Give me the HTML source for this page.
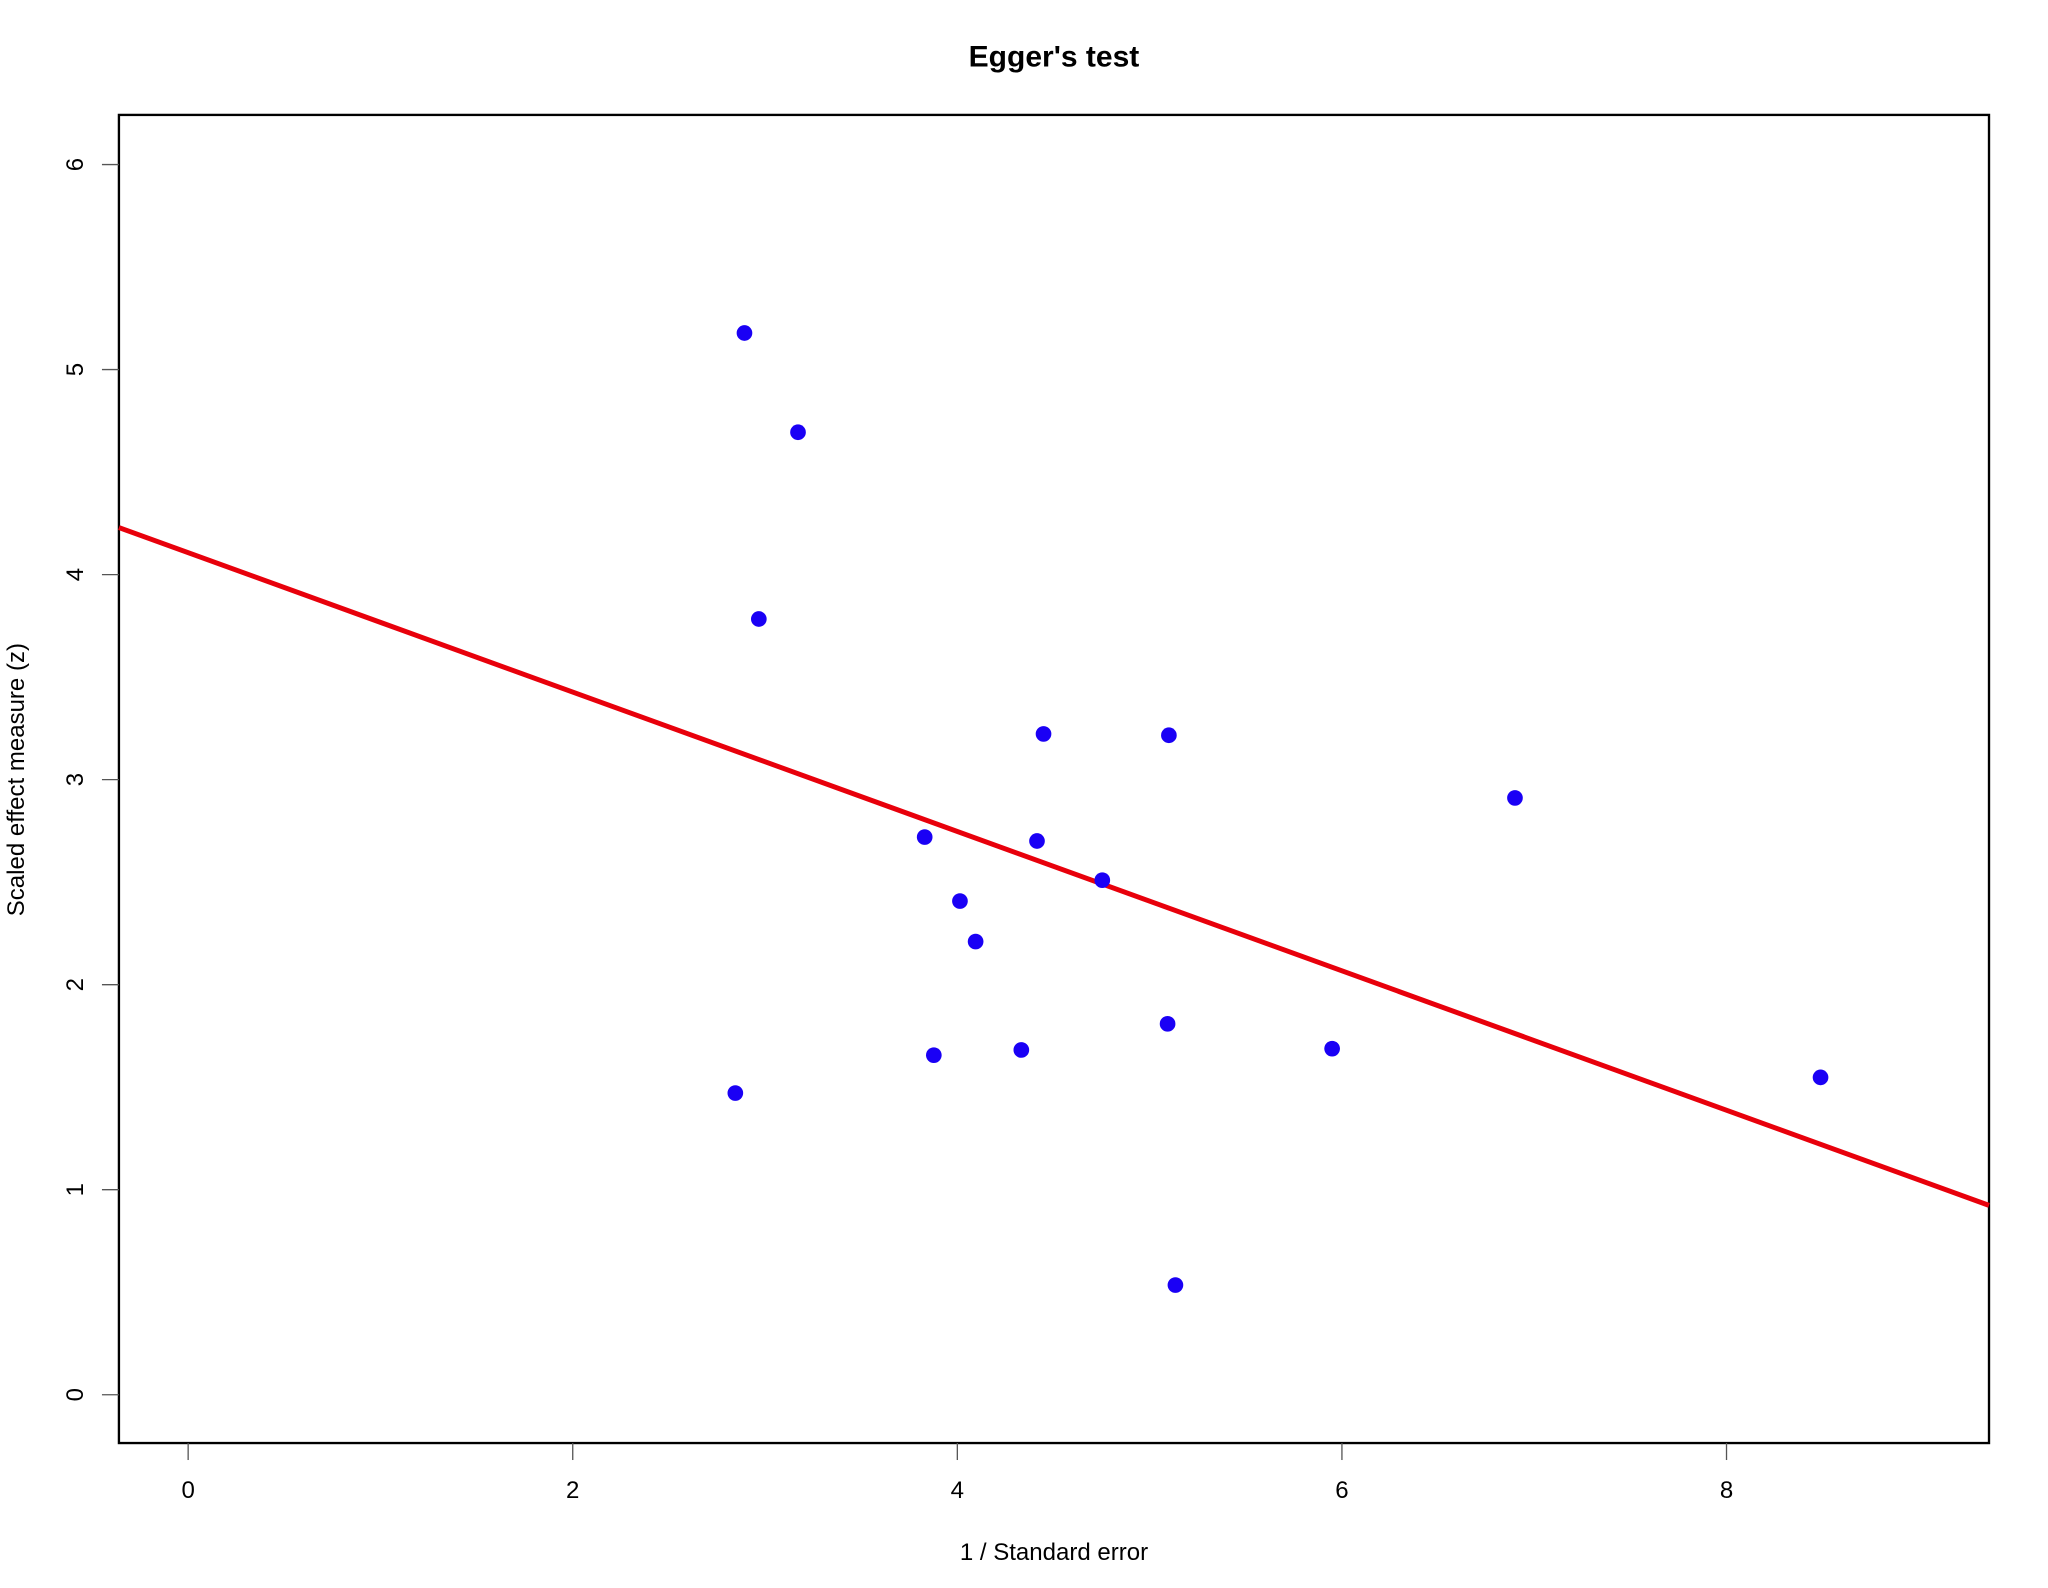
<!DOCTYPE html>
<html><head><meta charset="utf-8"><style>html,body{margin:0;padding:0;background:#fff}svg{display:block}</style></head>
<body>
<svg width="2048" height="1588" viewBox="0 0 1568.1 1216" xmlns="http://www.w3.org/2000/svg" font-family="Liberation Sans, Arial, sans-serif">
<rect width="1568.1" height="1216" fill="#fff"/>
<text x="807" y="51" font-size="23" font-weight="bold" text-anchor="middle">Egger's test</text>
<text x="807" y="1194.5" font-size="18.4" text-anchor="middle">1 / Standard error</text>
<text transform="translate(18.4,597) rotate(-90)" font-size="18.4" text-anchor="middle">Scaled effect measure (z)</text>
<rect x="91" y="88" width="1432" height="1017" fill="none" stroke="#000" stroke-width="1.8"/>
<g stroke="#555" stroke-width="1">
<line x1="144" y1="1105" x2="144" y2="1118"/>
<line x1="438.5" y1="1105" x2="438.5" y2="1118"/>
<line x1="733" y1="1105" x2="733" y2="1118"/>
<line x1="1027.5" y1="1105" x2="1027.5" y2="1118"/>
<line x1="1322" y1="1105" x2="1322" y2="1118"/>
<line x1="91" y1="1068" x2="78" y2="1068"/>
<line x1="91" y1="911" x2="78" y2="911"/>
<line x1="91" y1="754" x2="78" y2="754"/>
<line x1="91" y1="597" x2="78" y2="597"/>
<line x1="91" y1="440" x2="78" y2="440"/>
<line x1="91" y1="283" x2="78" y2="283"/>
<line x1="91" y1="126" x2="78" y2="126"/>
</g>
<g font-size="18.4" text-anchor="middle">
<text x="144" y="1147">0</text>
<text x="438.5" y="1147">2</text>
<text x="733" y="1147">4</text>
<text x="1027.5" y="1147">6</text>
<text x="1322" y="1147">8</text>
<text transform="translate(63.6,1068) rotate(-90)">0</text>
<text transform="translate(63.6,911) rotate(-90)">1</text>
<text transform="translate(63.6,754) rotate(-90)">2</text>
<text transform="translate(63.6,597) rotate(-90)">3</text>
<text transform="translate(63.6,440) rotate(-90)">4</text>
<text transform="translate(63.6,283) rotate(-90)">5</text>
<text transform="translate(63.6,126) rotate(-90)">6</text>
</g>
<line x1="91" y1="404" x2="1523" y2="923" stroke="#e8000b" stroke-width="3.8"/>
<g fill="#1a00f5">
<circle cx="570" cy="255" r="6"/>
<circle cx="611" cy="331" r="6"/>
<circle cx="581" cy="474" r="6"/>
<circle cx="799" cy="562" r="6"/>
<circle cx="895" cy="563" r="6"/>
<circle cx="1160" cy="611" r="6"/>
<circle cx="708" cy="641" r="6"/>
<circle cx="794" cy="644" r="6"/>
<circle cx="844" cy="674" r="6"/>
<circle cx="735" cy="690" r="6"/>
<circle cx="747" cy="721" r="6"/>
<circle cx="894" cy="784" r="6"/>
<circle cx="1020" cy="803" r="6"/>
<circle cx="782" cy="804" r="6"/>
<circle cx="715" cy="808" r="6"/>
<circle cx="563" cy="837" r="6"/>
<circle cx="1394" cy="825" r="6"/>
<circle cx="900" cy="984" r="6"/>
</g>
</svg>
</body></html>
